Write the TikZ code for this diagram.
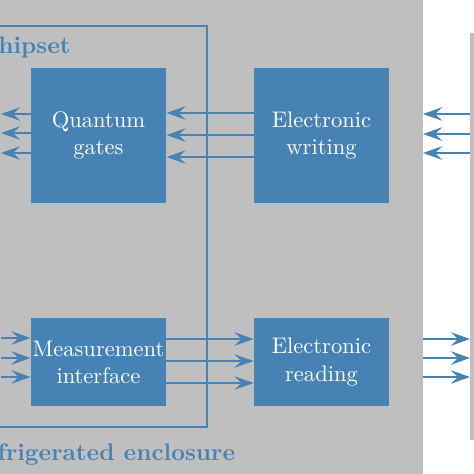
\documentclass[tikz,border=0pt]{standalone}
\usepackage{tikz}
\usetikzlibrary{arrows.meta}

\definecolor{steel}{RGB}{70,130,180}

\tikzset{
	block/.style={fill=steel, text=white, align=center, inner sep=0pt, minimum width=2.106cm},
	link/.style={draw=steel, line width=0.9pt, -{Stealth[length=8.5pt,width=6pt,inset=3.2pt]}},
	tag/.style={text=steel, font=\bfseries\fontsize{10.6}{12}\selectfont, inner sep=0pt}
}

\begin{document}
\begin{tikzpicture}[x=0.0156cm, y=-0.0156cm]
	
	\useasboundingbox (0,0) rectangle (474,474);
	\fill[gray!50] (-40,-10) rectangle (423,484);
	\fill[gray!50] (470,33) rectangle (490,440);
	\draw[steel, line width=0.9pt] (-40,26) rectangle (207,427);
	
	\coordinate (lft) at (1,0);
	\coordinate (enclE) at (423,0);
	\coordinate (panelW) at (470,0);
	
	\node[tag, anchor=base west] (chiplbl) at (-22,53) {Chipset};
	\node[tag, anchor=base west] (encllbl) at (-36,460) {Refrigerated enclosure};
	
	\node[block, minimum height=2.106cm] (gates) at (98.5,135.5) {Quantum\\gates};
	\node[block, minimum height=2.106cm] (writing) at (321.5,135.5) {Electronic\\writing};
	\node[block, minimum height=1.373cm] (meas) at (98.5,362) {Measurement\\interface};
	\node[block, minimum height=1.373cm] (reading) at (321.5,362) {Electronic\\reading};
	
	\draw[link] (gates.west |- 0,114) -- (lft |- 0,114);
	\draw[link] (gates.west |- 0,133) -- (lft |- 0,133);
	\draw[link] (gates.west |- 0,153) -- (lft |- 0,153);
	
	\draw[link] (writing.west |- 0,113) -- (gates.east |- 0,113);
	\draw[link] (writing.west |- 0,135) -- (gates.east |- 0,135);
	\draw[link] (writing.west |- 0,157) -- (gates.east |- 0,157);
	
	\draw[link] (panelW |- 0,114) -- (enclE |- 0,114);
	\draw[link] (panelW |- 0,134) -- (enclE |- 0,134);
	\draw[link] (panelW |- 0,153) -- (enclE |- 0,153);
	
	\draw[link] (lft |- 0,338) -- (meas.west |- 0,338);
	\draw[link] (lft |- 0,358) -- (meas.west |- 0,358);
	\draw[link] (lft |- 0,377) -- (meas.west |- 0,377);
	
	\draw[link] (meas.east |- 0,339) -- (reading.west |- 0,339);
	\draw[link] (meas.east |- 0,361) -- (reading.west |- 0,361);
	\draw[link] (meas.east |- 0,383) -- (reading.west |- 0,383);
	
	\draw[link] (enclE |- 0,339) -- (panelW |- 0,339);
	\draw[link] (enclE |- 0,358) -- (panelW |- 0,358);
	\draw[link] (enclE |- 0,377) -- (panelW |- 0,377);
	
\end{tikzpicture}
\end{document}
